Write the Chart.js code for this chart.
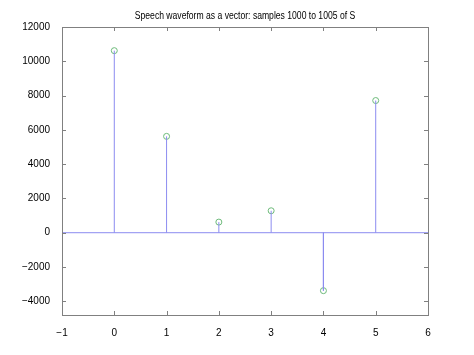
<!DOCTYPE html>
<html>
<head>
<meta charset="utf-8">
<script src="https://cdn.jsdelivr.net/npm/chart.js@4"></script>
<style>
  html, body { margin: 0; padding: 0; background: #fff; }
  #wrap { width: 474px; height: 355px; }
</style>
</head>
<body>
<div id="wrap"><canvas id="stemChart"></canvas></div>
<script>
// Sample data
const sampleIndex = [0, 1, 2, 3, 4, 5];
const sampleValues = [10620, 5620, 620, 1280, -3380, 7710];
const xTicks = [-1, 0, 1, 2, 3, 4, 5, 6];
const yTicks = [-4000, -2000, 0, 2000, 4000, 6000, 8000, 10000, 12000];
const titleText = 'Speech waveform as a vector: samples 1000 to 1005 of S';

// Stems: (x,0) -> (x,v), broken with nulls
const stemData = [];
sampleIndex.forEach((x, i) => {
    stemData.push({ x: x, y: 0 });
    stemData.push({ x: x, y: sampleValues[i] });
    stemData.push({ x: x, y: null });
});
const markerData = sampleIndex.map((x, i) => ({ x: x, y: sampleValues[i] }));
const baseData = [{ x: -1, y: 0 }, { x: 6, y: 0 }];

const fontFamily = '"Liberation Sans", Arial, sans-serif';

// Box around the axes with inward ticks, plus the title centred on the plot
const boxPlugin = {
    id: 'boxPlugin',
    afterDraw(chart) {
        const ctx = chart.ctx;
        const a = chart.chartArea;
        const xs = chart.scales.x;
        const ys = chart.scales.y;
        ctx.save();
        ctx.strokeStyle = '#808080';
        ctx.lineWidth = 1;
        ctx.strokeRect(Math.round(a.left) + 0.5, Math.round(a.top) + 0.5,
            Math.round(a.right - a.left), Math.round(a.bottom - a.top));
        ctx.beginPath();
        const len = 4;
        xTicks.forEach(v => {
            const px = Math.round(xs.getPixelForValue(v)) + 0.5;
            ctx.moveTo(px, a.bottom); ctx.lineTo(px, a.bottom - len);
            ctx.moveTo(px, a.top); ctx.lineTo(px, a.top + len);
        });
        yTicks.forEach(v => {
            const py = Math.round(ys.getPixelForValue(v)) + 0.5;
            ctx.moveTo(a.left, py); ctx.lineTo(a.left + len, py);
            ctx.moveTo(a.right, py); ctx.lineTo(a.right - len, py);
        });
        ctx.stroke();

        // title, slightly condensed like the original
        ctx.fillStyle = '#000';
        ctx.font = '10px ' + fontFamily;
        ctx.textAlign = 'center';
        ctx.textBaseline = 'middle';
        ctx.translate((a.left + a.right) / 2, 16);
        ctx.scale(0.86, 1);
        ctx.fillText(titleText, 0, 0);
        ctx.restore();
    }
};

const tickFont = { family: fontFamily, size: 10 };
const fmt = v => (v < 0 ? '\u2212' + Math.abs(v) : String(v));

new Chart(document.getElementById('stemChart'), {
    type: 'scatter',
    data: {
        datasets: [
            {
                type: 'line',
                data: baseData,
                borderColor: '#8c8cf0',
                borderWidth: 1,
                pointRadius: 0
            },
            {
                type: 'line',
                data: stemData,
                borderColor: '#8c8cf0',
                borderWidth: 1,
                pointRadius: 0,
                spanGaps: false
            },
            {
                data: markerData,
                pointStyle: 'circle',
                pointRadius: 3,
                borderColor: '#6dba7a',
                borderWidth: 1,
                backgroundColor: 'rgba(0,0,0,0)'
            }
        ]
    },
    options: {
        responsive: true,
        maintainAspectRatio: false,
        animation: false,
        layout: { padding: { left: 0, right: 46, top: 27, bottom: 0 } },
        plugins: {
            legend: { display: false },
            tooltip: { enabled: false },
            title: { display: false }
        },
        scales: {
            x: {
                type: 'linear',
                min: -1,
                max: 6,
                afterBuildTicks: s => { s.ticks = xTicks.map(v => ({ value: v })); },
                afterFit: s => { s.height = 40; },
                grid: { display: false },
                border: { display: false },
                ticks: { color: '#000', font: tickFont, padding: 4, maxRotation: 0, callback: fmt }
            },
            y: {
                type: 'linear',
                min: -4800,
                max: 12000,
                afterBuildTicks: s => { s.ticks = yTicks.map(v => ({ value: v })); },
                afterFit: s => { s.width = 62; },
                grid: { display: false },
                border: { display: false },
                ticks: { color: '#000', font: tickFont, padding: 4, callback: fmt }
            }
        }
    },
    plugins: [boxPlugin]
});
</script>
</body>
</html>
